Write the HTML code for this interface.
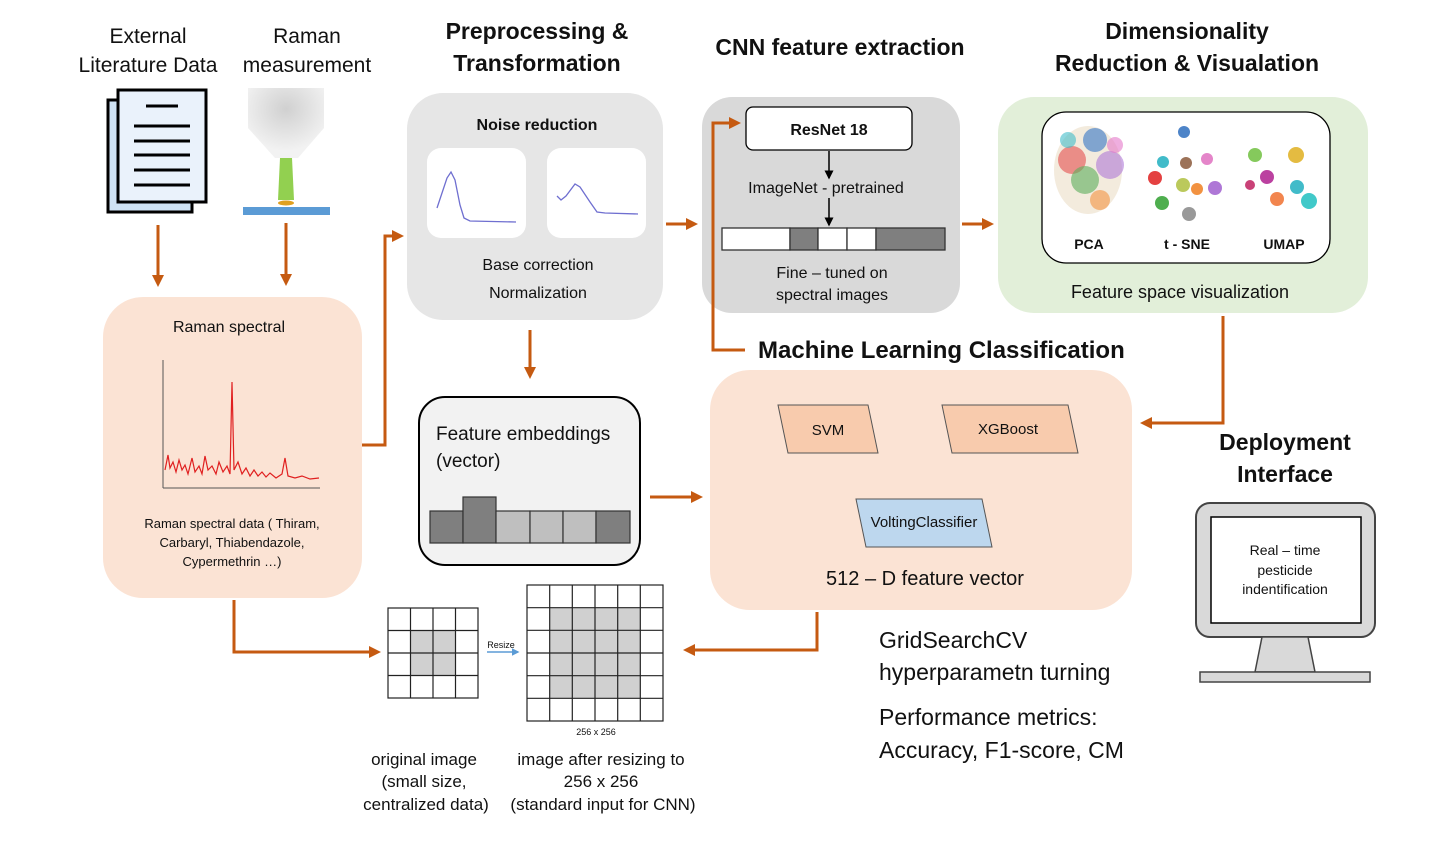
<!DOCTYPE html>
<html><head><meta charset="utf-8"><style>
html,body{margin:0;padding:0;background:#fff}
svg{display:block;font-family:"Liberation Sans",sans-serif}
</style></head><body>
<svg width="1429" height="844" viewBox="0 0 1429 844" xmlns="http://www.w3.org/2000/svg">
<defs>
<marker id="oa" markerWidth="4" markerHeight="4" refX="3" refY="2" orient="auto" markerUnits="strokeWidth"><path d="M0,0 L4,2 L0,4 z" fill="#c55a11"/></marker>
<marker id="ka" markerWidth="6" markerHeight="6" refX="5" refY="3" orient="auto" markerUnits="strokeWidth"><path d="M0,0 L6,3 L0,6 z" fill="#000"/></marker>
<marker id="ba" markerWidth="5" markerHeight="5" refX="4" refY="2.5" orient="auto" markerUnits="strokeWidth"><path d="M0,0 L5,2.5 L0,5 z" fill="#5b9bd5"/></marker>
<radialGradient id="cone" cx="0.5" cy="0.3" r="0.6"><stop offset="0" stop-color="#d0d0d0"/><stop offset="1" stop-color="#f2f2f2"/></radialGradient>
</defs>

<!-- Titles -->
<g font-size="21" fill="#111" text-anchor="middle">
<text x="148" y="43">External</text><text x="148" y="72">Literature Data</text>
<text x="307" y="43">Raman</text><text x="307" y="72">measurement</text>
</g>
<g font-size="23" font-weight="bold" fill="#111" text-anchor="middle">
<text x="537" y="39">Preprocessing &amp;</text><text x="537" y="71">Transformation</text>
<text x="840" y="55">CNN feature extraction</text>
<text x="1187" y="39">Dimensionality</text><text x="1187" y="71">Reduction &amp; Visualation</text>
<text x="1285" y="450">Deployment</text><text x="1285" y="482">Interface</text>
</g>

<!-- Document icon -->
<rect x="108" y="100" width="84" height="112" fill="#cfe2f3" stroke="#000" stroke-width="3"/>
<rect x="118" y="90" width="88" height="112" fill="#eaf2fb" stroke="#000" stroke-width="3"/>
<g stroke="#000" stroke-width="3"><line x1="146" y1="106" x2="178" y2="106"/><line x1="134" y1="126" x2="190" y2="126"/><line x1="134" y1="141" x2="190" y2="141"/><line x1="134" y1="155" x2="190" y2="155"/><line x1="134" y1="170" x2="190" y2="170"/><line x1="134" y1="185" x2="190" y2="185"/></g>

<!-- Raman instrument -->
<path d="M248,88 L324,88 L324,128 L298,158 L275,158 L248,128 Z" fill="url(#cone)"/>
<path d="M280,158 L292,158 L294,200 L278,200 Z" fill="#92d050"/>
<ellipse cx="286" cy="203" rx="8" ry="2.5" fill="#e0a020"/>
<rect x="243" y="207" width="87" height="8" fill="#5b9bd5"/>

<g stroke="#c55a11" stroke-width="3" fill="none">
<line x1="158" y1="225" x2="158" y2="284" marker-end="url(#oa)"/>
<line x1="286" y1="223" x2="286" y2="283" marker-end="url(#oa)"/>
</g>

<!-- Raman spectral box -->
<rect x="103" y="297" width="259" height="301" rx="40" fill="#fbe3d4"/>
<text x="229" y="332" font-size="16" text-anchor="middle" fill="#111">Raman spectral</text>
<g stroke="#555" stroke-width="1" fill="none"><line x1="163" y1="360" x2="163" y2="488"/><line x1="163" y1="488" x2="320" y2="488"/></g>
<path d="M165,470 L168,455 L170,468 L173,462 L176,472 L179,460 L182,470 L185,465 L188,474 L192,458 L195,472 L199,466 L202,474 L205,456 L208,470 L212,466 L216,474 L219,462 L223,472 L227,466 L230,474 L232,382 L234,470 L238,462 L242,474 L246,468 L250,476 L254,470 L258,476 L262,472 L266,477 L270,473 L276,478 L282,474 L285,458 L288,476 L295,478 L302,476 L310,479 L319,478" fill="none" stroke="#e02020" stroke-width="1.2"/>
<g font-size="13" text-anchor="middle" fill="#111"><text x="232" y="528">Raman spectral data ( Thiram,</text><text x="232" y="547">Carbaryl, Thiabendazole,</text><text x="232" y="566">Cypermethrin …)</text></g>

<!-- Preprocessing box -->
<rect x="407" y="93" width="256" height="227" rx="36" fill="#e6e6e6"/>
<text x="537" y="130" font-size="16" font-weight="bold" text-anchor="middle" fill="#111">Noise reduction</text>
<rect x="427" y="148" width="99" height="90" rx="14" fill="#fff"/>
<rect x="547" y="148" width="99" height="90" rx="14" fill="#fff"/>
<path d="M437,208 L447,178 L451,172 L455,180 L460,205 L464,218 L470,221 L516,222" fill="none" stroke="#6f6fd0" stroke-width="1.3"/>
<path d="M557,196 L561,200 L566,196 L575,184 L580,187 L590,202 L597,212 L605,213 L638,214" fill="none" stroke="#6f6fd0" stroke-width="1.3"/>
<g font-size="16" text-anchor="middle" fill="#111"><text x="538" y="270">Base correction</text><text x="538" y="298">Normalization</text></g>

<!-- CNN box -->
<rect x="702" y="97" width="258" height="216" rx="30" fill="#d9d9d9"/>
<rect x="746" y="107" width="166" height="43" rx="7" fill="#fff" stroke="#000" stroke-width="1.3"/>
<text x="829" y="135" font-size="16" font-weight="bold" text-anchor="middle" fill="#111">ResNet 18</text>
<line x1="829" y1="151" x2="829" y2="178" stroke="#000" stroke-width="1.5" marker-end="url(#ka)"/>
<text x="826" y="193" font-size="16" text-anchor="middle" fill="#111">ImageNet - pretrained</text>
<line x1="829" y1="198" x2="829" y2="225" stroke="#000" stroke-width="1.5" marker-end="url(#ka)"/>
<g stroke="#333" stroke-width="1.3"><rect x="722" y="228" width="68" height="22" fill="#fff"/><rect x="790" y="228" width="28" height="22" fill="#7f7f7f"/><rect x="818" y="228" width="29" height="22" fill="#fff"/><rect x="847" y="228" width="29" height="22" fill="#fff"/><rect x="876" y="228" width="69" height="22" fill="#7f7f7f"/></g>
<g font-size="16" text-anchor="middle" fill="#111"><text x="832" y="278">Fine – tuned on</text><text x="832" y="300">spectral images</text></g>

<!-- Dim red box -->
<rect x="998" y="97" width="370" height="216" rx="36" fill="#e2efd9"/>
<rect x="1042" y="112" width="288" height="151" rx="24" fill="#fff" stroke="#000" stroke-width="1.3"/>
<g opacity="0.85">
<ellipse cx="1088" cy="170" rx="34" ry="44" fill="#c8a060" opacity="0.25"/>
<circle cx="1072" cy="160" r="14" fill="#e03030" opacity="0.6"/><circle cx="1095" cy="140" r="12" fill="#3070c0" opacity="0.7"/><circle cx="1110" cy="165" r="14" fill="#a060d0" opacity="0.6"/><circle cx="1085" cy="180" r="14" fill="#40a040" opacity="0.6"/><circle cx="1100" cy="200" r="10" fill="#f08020" opacity="0.6"/><circle cx="1068" cy="140" r="8" fill="#20b0c0" opacity="0.6"/><circle cx="1115" cy="145" r="8" fill="#e060c0" opacity="0.6"/>
<circle cx="1184" cy="132" r="6" fill="#2f6fbf"/><circle cx="1163" cy="162" r="6" fill="#20b0c0"/><circle cx="1186" cy="163" r="6" fill="#8b5a3c"/><circle cx="1207" cy="159" r="6" fill="#e070c0"/><circle cx="1155" cy="178" r="7" fill="#e02020"/><circle cx="1183" cy="185" r="7" fill="#b0c040"/><circle cx="1197" cy="189" r="6" fill="#f08020"/><circle cx="1215" cy="188" r="7" fill="#a060d0"/><circle cx="1162" cy="203" r="7" fill="#30a030"/><circle cx="1189" cy="214" r="7" fill="#888"/>
<circle cx="1255" cy="155" r="7" fill="#70c040"/><circle cx="1296" cy="155" r="8" fill="#e0b020"/><circle cx="1267" cy="177" r="7" fill="#b02090"/><circle cx="1250" cy="185" r="5" fill="#c02060"/><circle cx="1297" cy="187" r="7" fill="#20b0c0"/><circle cx="1277" cy="199" r="7" fill="#f07030"/><circle cx="1309" cy="201" r="8" fill="#20c0c0"/>
</g>
<g font-size="14" font-weight="bold" text-anchor="middle" fill="#111"><text x="1089" y="249">PCA</text><text x="1187" y="249">t - SNE</text><text x="1284" y="249">UMAP</text></g>
<text x="1180" y="298" font-size="18" text-anchor="middle" fill="#111">Feature space visualization</text>

<!-- ML box -->
<text x="758" y="358" font-size="24" font-weight="bold" fill="#111">Machine Learning Classification</text>
<rect x="710" y="370" width="422" height="240" rx="40" fill="#fbe3d4"/>
<path d="M778,405 L868,405 L878,453 L788,453 Z" fill="#f8cbad" stroke="#555" stroke-width="1"/>
<text x="828" y="435" font-size="15" text-anchor="middle" fill="#111">SVM</text>
<path d="M942,405 L1068,405 L1078,453 L952,453 Z" fill="#f8cbad" stroke="#555" stroke-width="1"/>
<text x="1008" y="434" font-size="15" text-anchor="middle" fill="#111">XGBoost</text>
<path d="M856,499 L982,499 L992,547 L866,547 Z" fill="#bdd7ee" stroke="#555" stroke-width="1"/>
<text x="924" y="527" font-size="15" text-anchor="middle" fill="#111">VoltingClassifier</text>
<text x="925" y="585" font-size="20" text-anchor="middle" fill="#111">512 – D feature vector</text>

<!-- Feature embeddings -->
<rect x="419" y="397" width="221" height="168" rx="26" fill="#f2f2f2" stroke="#000" stroke-width="2"/>
<g font-size="19" fill="#111"><text x="436" y="440">Feature embeddings</text><text x="436" y="467">(vector)</text></g>
<g stroke="#333" stroke-width="1.2"><rect x="430" y="511" width="33" height="32" fill="#7f7f7f"/><rect x="463" y="497" width="33" height="46" fill="#7f7f7f"/><rect x="496" y="511" width="34" height="32" fill="#bfbfbf"/><rect x="530" y="511" width="33" height="32" fill="#bfbfbf"/><rect x="563" y="511" width="33" height="32" fill="#bfbfbf"/><rect x="596" y="511" width="34" height="32" fill="#7f7f7f"/></g>

<!-- Grids -->
<rect x="410.5" y="630.5" width="45" height="45" fill="#d0d0d0"/>
<g stroke="#222" stroke-width="1.2" fill="none">
<rect x="388" y="608" width="90" height="90"/>
<line x1="410.5" y1="608" x2="410.5" y2="698"/><line x1="433" y1="608" x2="433" y2="698"/><line x1="455.5" y1="608" x2="455.5" y2="698"/>
<line x1="388" y1="630.5" x2="478" y2="630.5"/><line x1="388" y1="653" x2="478" y2="653"/><line x1="388" y1="675.5" x2="478" y2="675.5"/>
</g>
<line x1="487" y1="652" x2="518" y2="652" stroke="#5b9bd5" stroke-width="1.5" marker-end="url(#ba)"/>
<text x="501" y="648" font-size="9" text-anchor="middle" fill="#111">Resize</text>
<rect x="549.7" y="607.7" width="90.6" height="90.6" fill="#d0d0d0"/>
<g stroke="#222" stroke-width="1.2" fill="none">
<rect x="527" y="585" width="136" height="136"/>
<line x1="549.7" y1="585" x2="549.7" y2="721"/><line x1="572.3" y1="585" x2="572.3" y2="721"/><line x1="595" y1="585" x2="595" y2="721"/><line x1="617.7" y1="585" x2="617.7" y2="721"/><line x1="640.3" y1="585" x2="640.3" y2="721"/>
<line x1="527" y1="607.7" x2="663" y2="607.7"/><line x1="527" y1="630.3" x2="663" y2="630.3"/><line x1="527" y1="653" x2="663" y2="653"/><line x1="527" y1="675.7" x2="663" y2="675.7"/><line x1="527" y1="698.3" x2="663" y2="698.3"/>
</g>
<text x="596" y="735" font-size="9" text-anchor="middle" fill="#111">256 x 256</text>
<g font-size="17" text-anchor="middle" fill="#111">
<text x="424" y="765">original image</text><text x="424" y="787">(small size,</text><text x="426" y="810">centralized data)</text>
<text x="601" y="765">image after resizing to</text><text x="601" y="787">256 x 256</text><text x="603" y="810">(standard input for CNN)</text>
</g>

<!-- GridSearch text -->
<g font-size="23" fill="#111"><text x="879" y="648">GridSearchCV</text><text x="879" y="680">hyperparametn turning</text><text x="879" y="725">Performance metrics:</text><text x="879" y="758">Accuracy, F1-score, CM</text></g>

<!-- Monitor -->
<rect x="1196" y="503" width="179" height="134" rx="14" fill="#d9d9d9" stroke="#444" stroke-width="2"/>
<rect x="1211" y="517" width="150" height="106" fill="#fff" stroke="#000" stroke-width="1.5"/>
<g font-size="14" text-anchor="middle" fill="#111"><text x="1285" y="555">Real – time</text><text x="1285" y="575">pesticide</text><text x="1285" y="594">indentification</text></g>
<path d="M1262,637 L1308,637 L1315,672 L1255,672 Z" fill="#d9d9d9" stroke="#444" stroke-width="1.5"/>
<rect x="1200" y="672" width="170" height="10" fill="#d9d9d9" stroke="#444" stroke-width="1.5"/>

<!-- Orange connectors -->
<g stroke="#c55a11" stroke-width="3" fill="none">
<polyline points="362,445 385,445 385,236 401,236" marker-end="url(#oa)"/>
<line x1="666" y1="224" x2="695" y2="224" marker-end="url(#oa)"/>
<line x1="530" y1="330" x2="530" y2="376" marker-end="url(#oa)"/>
<polyline points="745,350 713,350 713,123 738,123" marker-end="url(#oa)"/>
<line x1="962" y1="224" x2="991" y2="224" marker-end="url(#oa)"/>
<polyline points="1223,316 1223,423 1143,423" marker-end="url(#oa)"/>
<line x1="650" y1="497" x2="700" y2="497" marker-end="url(#oa)"/>
<polyline points="234,600 234,652 378,652" marker-end="url(#oa)"/>
<polyline points="817,612 817,650 686,650" marker-end="url(#oa)"/>
</g>
</svg>
</body></html>
